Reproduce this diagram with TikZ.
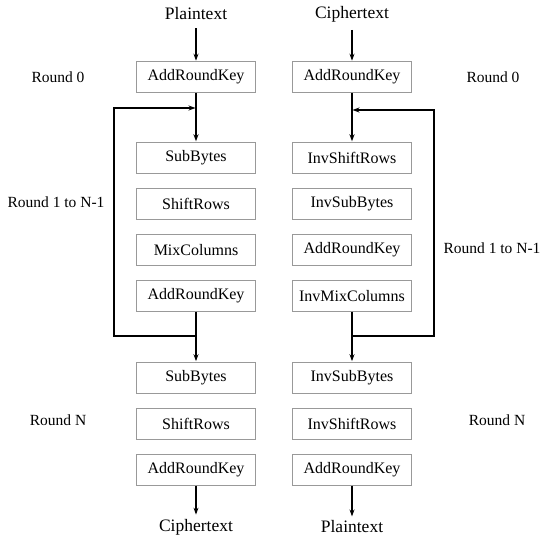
\documentclass[tikz,border=0pt]{standalone}
\usepackage{fontspec}
\setmainfont{Liberation Serif}
\usetikzlibrary{positioning, arrows.meta}

\begin{document}
\begin{tikzpicture}[->,>={Stealth[length=7pt,width=5pt]},shorten >=0.5pt,
			line width=1.2pt,x=1pt,y=1pt,
			step node/.style={draw=black!40,line width=0.6pt,minimum width=119pt,minimum height=31pt,font=\fontsize{16}{18}\selectfont},
			end node/.style={font=\fontsize{17.5}{20}\selectfont},
			round node/.style={font=\fontsize{15.5}{18}\selectfont}]
			
			\useasboundingbox (0,0) rectangle (550,-542);
			
			% encryption
			\node[end node] (p1) at (196,-14) {Plaintext};
			\node[step node] (k0) at (196,-77) {AddRoundKey};
			\node[step node] (s1) [below=49pt of k0] {SubBytes};
			\node[step node] (r1) [below=14.5pt of s1] {ShiftRows};
			\node[step node] (m1) [below=14.5pt of r1] {MixColumns};
			\node[step node] (k1) [below=14.5pt of m1] {AddRoundKey};
			\node[step node] (s2) [below=50pt of k1] {SubBytes};
			\node[step node] (r2) [below=14.5pt of s2] {ShiftRows};
			\node[step node] (k2) [below=14.5pt of r2] {AddRoundKey};
			\node[end node] (c1) at (196,-527) {Ciphertext};
			
			% decryption
			\node[end node] (c2) at (352,-14) {Ciphertext};
			\node[step node] (dk0) at (352,-77) {AddRoundKey};
			\node[step node] (dr1) [below=49pt of dk0] {InvShiftRows};
			\node[step node] (ds1) [below=14.5pt of dr1] {InvSubBytes};
			\node[step node] (dk1) [below=14.5pt of ds1] {AddRoundKey};
			\node[step node] (dm1) [below=14.5pt of dk1] {InvMixColumns};
			\node[step node] (ds2) [below=50pt of dm1] {InvSubBytes};
			\node[step node] (dr2) [below=14.5pt of ds2] {InvShiftRows};
			\node[step node] (dk2) [below=14.5pt of dr2] {AddRoundKey};
			\node[end node] (p2) at (352,-527) {Plaintext};
			
			% round labels
			\node[round node] (l0) at (58,-77) {Round 0};
			\node[round node] (l1) at (56,-202) {Round 1 to N-1};
			\node[round node] (l2) at (58,-420) {Round N};
			\node[round node] (q0) at (493,-77) {Round 0};
			\node[round node] (q1) at (492,-248) {Round 1 to N-1};
			\node[round node] (q2) at (497,-420) {Round N};
			
			% loop points
			\coordinate (a1) at (196,-336);
			\coordinate (a2) at (114,-336);
			\coordinate (a3) at (114,-108);
			\coordinate (a4) at (196,-108);
			\coordinate (b1) at (352,-336);
			\coordinate (b2) at (434,-336);
			\coordinate (b3) at (434,-110);
			\coordinate (b4) at (352,-110);
			
			\path[shorten <=4pt]
			(p1) edge (k0)
			(c2) edge (dk0);
			\path
			(k0) edge (s1)
			(k1) edge (s2)
			(k2) edge (c1)
			(dk0) edge (dr1)
			(dm1) edge (ds2)
			(dk2) edge (p2);
			\draw (a1) -- (a2) -- (a3) -- (a4);
			\draw (b1) -- (b2) -- (b3) -- (b4);
		\end{tikzpicture}
\end{document}
